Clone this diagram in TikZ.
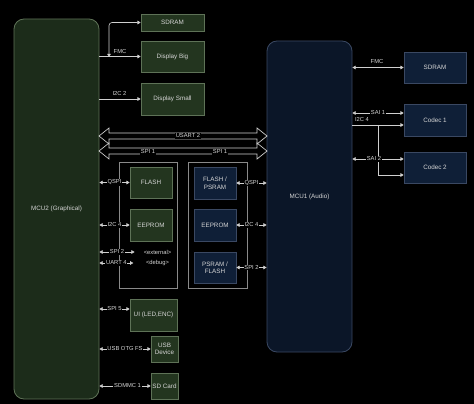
\documentclass[tikz,border=0pt]{standalone}
\usepackage{fontspec}
\setmainfont{Liberation Sans}
\usetikzlibrary{arrows.meta}
\definecolor{gfill}{HTML}{1C2C1A}
\definecolor{gline}{HTML}{5E7257}
\definecolor{gbfill}{HTML}{23351F}
\definecolor{nfill}{HTML}{0B1628}
\definecolor{nline}{HTML}{3A4862}
\definecolor{nbfill}{HTML}{0F1F37}
\definecolor{txt}{HTML}{D6D6D6}
\definecolor{wire}{HTML}{D0D0D0}
\definecolor{cont}{HTML}{8A8A8A}
\tikzset{
  mcug/.style={draw=gline,fill=gfill,rounded corners=10pt,line width=0.8pt,text=txt,font=\fontsize{6.3}{7.5}\selectfont,inner sep=0pt},
  mcun/.style={draw=nline,fill=nfill,rounded corners=10pt,line width=0.8pt,text=txt,font=\fontsize{6.3}{7.5}\selectfont,inner sep=0pt},
  gbox/.style={draw=gline,fill=gbfill,line width=0.7pt,text=txt,font=\fontsize{6.3}{7.5}\selectfont,inner sep=0pt,align=center},
  nbox/.style={draw=nline,fill=nbfill,line width=0.7pt,text=txt,font=\fontsize{6.3}{7.5}\selectfont,inner sep=0pt,align=center},
  contbox/.style={draw=cont,line width=0.6pt,inner sep=0pt},
  tip/.tip={Triangle[length=3.2pt,width=3.6pt]},
  wireline/.style={draw=wire,line width=0.6pt},
  biw/.style={wireline,tip-tip},
  uniw/.style={wireline,-tip},
  lbl/.style={fill=black,text=txt,inner sep=0.8pt,font=\fontsize{5.8}{7}\selectfont},
  plainlbl/.style={text=txt,inner sep=0.8pt,font=\fontsize{5.8}{7}\selectfont},
  bus/.style={draw=wire,line width=0.7pt,line join=miter},
}
\begin{document}
\begin{tikzpicture}[x=1pt,y=-1pt]
\fill[black] (0,0) rectangle (474,404);
\useasboundingbox (0,0) rectangle (474,404);

% main MCUs
\node[mcug,minimum width=85pt,minimum height=380pt] (mcu2) at (56.5,209) {MCU2 (Graphical)};
\node[mcun,minimum width=85pt,minimum height=311pt] (mcu1) at (309.5,196.5) {MCU1 (Audio)};

% top-left peripherals
\node[gbox,minimum width=63pt,minimum height=17pt] (sdramL) at (172.5,22.5) {SDRAM};
\node[gbox,minimum width=63pt,minimum height=31pt] (dbig) at (172.5,56.5) {Display Big};
\node[gbox,minimum width=63pt,minimum height=32pt] (dsmall) at (172.5,99) {Display Small};

% containers
\node[contbox,minimum width=58pt,minimum height=126pt] (contL) at (148,225) {};
\node[contbox,minimum width=59pt,minimum height=126pt] (contR) at (217.5,225) {};

% inside left container
\node[gbox,minimum width=42pt,minimum height=31pt] (flashL) at (151,182.5) {FLASH};
\node[gbox,minimum width=42pt,minimum height=32pt] (eepL) at (151,225) {EEPROM};
\node[plainlbl,inner xsep=9pt] (ext) at (157.5,252) {<external>};
\node[plainlbl,inner xsep=12.5pt] (dbg) at (157.5,263) {<debug>};

% inside right container
\node[nbox,minimum width=42pt,minimum height=32pt] (flashR) at (215,183) {FLASH /\\PSRAM};
\node[nbox,minimum width=42pt,minimum height=32pt] (eepR) at (215,225) {EEPROM};
\node[nbox,minimum width=42pt,minimum height=31pt] (psramR) at (215,267.5) {PSRAM /\\FLASH};

% bottom-left peripherals
\node[gbox,minimum width=47pt,minimum height=32pt] (ui) at (153.5,315) {UI (LED,ENC)};
\node[gbox,minimum width=27pt,minimum height=26pt] (usb) at (164.5,349) {USB\\Device};
\node[gbox,minimum width=27pt,minimum height=26pt] (sd) at (164.5,386) {SD Card};

% right peripherals
\node[nbox,minimum width=62pt,minimum height=31pt] (sdramR) at (435,67.5) {SDRAM};
\node[nbox,minimum width=62pt,minimum height=32pt] (codec1) at (435,120) {Codec 1};
\node[nbox,minimum width=62pt,minimum height=31pt] (codec2) at (435,167.5) {Codec 2};

% port coordinates
\coordinate (uiP) at ([yshift=6pt]ui.west);
\coordinate (c1sai) at ([yshift=7pt]codec1.west);
\coordinate (c1i2c) at ([yshift=-5pt]codec1.west);
\coordinate (c2sai) at ([yshift=8.5pt]codec2.west);
\coordinate (c2i2c) at ([yshift=-7.5pt]codec2.west);

% ---- MCU2 top connectors
\draw[uniw] (mcu2.east |- dbig.west) -- (dbig.west);
\node[plainlbl] at (120,52) {FMC};
\coordinate (fmcj) at (109,57);
\draw[biw,rounded corners=3pt] (fmcj) -- (fmcj |- sdramL.west) -- (sdramL.west);
\draw[uniw] (mcu2.east |- dsmall.west) -- (dsmall.west);
\node[plainlbl] at (119.5,94) {I2C 2};

% ---- buses
\draw[bus] (99,136) -- (109,128) -- (109,133) -- (257,133) -- (257,128) -- (267,136) -- (257,144) -- (257,139) -- (109,139) -- (109,144) -- cycle;
\draw[bus] (99,151) -- (109,143) -- (109,148) -- (257,148) -- (257,143) -- (267,151) -- (257,159) -- (257,154) -- (109,154) -- (109,159) -- cycle;
\node[lbl] at (188,136) {USART 2};
\node[lbl] at (148,152) {SPI 1};
\node[lbl] at (220,152) {SPI 1};

% ---- MCU2 memory connectors
\draw[biw] (mcu2.east |- flashL.west) -- node[lbl]{QSPI} (flashL.west);
\draw[biw] (mcu2.east |- eepL.west) -- node[lbl]{I2C 4} (eepL.west);
\draw[biw] (mcu2.east |- ext.west) -- node[lbl]{SPI 2} (ext.west);
\draw[biw] (mcu2.east |- dbg.west) -- node[lbl]{UART 4} (dbg.west);

% ---- MCU1 memory connectors
\draw[biw] (flashR.east) -- node[lbl]{QSPI} (mcu1.west |- flashR.east);
\draw[biw] (eepR.east) -- node[lbl]{I2C 4} (mcu1.west |- eepR.east);
\draw[biw] (psramR.east) -- node[lbl]{SPI 2} (mcu1.west |- psramR.east);

% ---- MCU2 bottom connectors
\draw[biw] (mcu2.east |- uiP) -- node[lbl]{SPI 5} (uiP);
\draw[biw] (mcu2.east |- usb.west) -- node[lbl]{USB OTG FS} (usb.west);
\draw[biw] (mcu2.east |- sd.west) -- node[lbl,pos=0.55]{SDMMC 1} (sd.west);

% ---- MCU1 right connectors
\draw[biw] (mcu1.east |- sdramR.west) -- (sdramR.west);
\node[plainlbl] at (377,62) {FMC};
\draw[biw] (mcu1.east |- c1sai) -- node[lbl,pos=0.5]{SAI 1} (c1sai);
\coordinate (i2cj) at (378,125);
\draw[uniw] (mcu1.east |- c1i2c) -- (c1i2c);
\draw[uniw] (i2cj) |- (c2i2c);
\node[plainlbl] at (362,120) {I2C 4};
\draw[biw] (mcu1.east |- c2sai) -- node[lbl,pos=0.42]{SAI 2} (c2sai);
\end{tikzpicture}
\end{document}
